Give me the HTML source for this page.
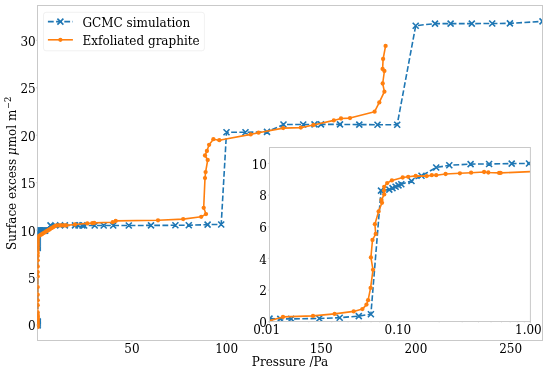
<!DOCTYPE html>
<html lang="en"><head><meta charset="utf-8"><title>Adsorption isotherm</title>
<style>html,body{margin:0;padding:0;background:#fff}body{width:550px;height:373px;overflow:hidden}</style>
</head><body>
<svg width="550" height="373" viewBox="0 0 550 373" style="display:block;font-family:'DejaVu Serif','Liberation Serif',serif;font-size:12.0px" fill="#000000">
<rect width="550" height="373" fill="#fff"/>
<defs><clipPath id="cm"><rect x="37.5" y="5.5" width="505.0" height="335.0"/></clipPath><clipPath id="ci"><rect x="269.5" y="147.5" width="260.9" height="174.0"/></clipPath></defs>
<rect x="37.5" y="5.5" width="505.0" height="335.0" fill="none" stroke="#c9c9c9" stroke-width="1"/>
<g clip-path="url(#cm)">
<polyline points="37.7,325.4 37.7,324.6 37.7,323.8 37.7,323.0 37.7,322.2 37.7,321.4 37.7,248.0 37.7,247.0 37.7,246.0 37.7,245.0 37.7,244.0 37.7,243.0 37.7,242.0 37.7,241.0 37.7,240.0 37.7,239.0 37.7,238.0 37.7,237.0 37.7,236.0 37.7,235.0 37.7,234.0 37.7,233.0 37.7,232.0 38.0,230.6 38.8,230.6 39.6,230.6 40.4,230.6 41.2,230.6 42.0,230.6 42.8,230.6 43.6,230.6 44.4,230.6 45.2,230.6 50.5,225.4 55.3,225.4 60.1,225.4 64.9,225.4 75.0,225.4 78.5,225.4 82.4,225.4 84.1,225.5 94.7,225.5 103.7,225.5 113.2,225.5 128.8,225.5 151.0,225.4 175.4,225.3 188.8,225.3 207.6,224.6 221.2,224.5 226.5,132.3 245.5,132.3 267.0,131.9 283.5,124.5 303.2,124.5 314.5,124.4 321.0,124.4 340.0,124.4 359.3,124.6 377.5,124.7 397.2,124.7 415.7,25.7 435.0,23.6 450.6,23.6 471.8,23.6 492.2,23.5 509.9,23.4 542.5,21.4" fill="none" stroke="#1f77b4" stroke-width="1.6" stroke-dasharray="5.8 2.4"/>
<path d="M34.7,322.4L40.7,328.4M34.7,328.4L40.7,322.4M34.7,321.6L40.7,327.6M34.7,327.6L40.7,321.6M34.7,320.8L40.7,326.8M34.7,326.8L40.7,320.8M34.7,320.0L40.7,326.0M34.7,326.0L40.7,320.0M34.7,319.2L40.7,325.2M34.7,325.2L40.7,319.2M34.7,318.4L40.7,324.4M34.7,324.4L40.7,318.4M34.7,245.0L40.7,251.0M34.7,251.0L40.7,245.0M34.7,244.0L40.7,250.0M34.7,250.0L40.7,244.0M34.7,243.0L40.7,249.0M34.7,249.0L40.7,243.0M34.7,242.0L40.7,248.0M34.7,248.0L40.7,242.0M34.7,241.0L40.7,247.0M34.7,247.0L40.7,241.0M34.7,240.0L40.7,246.0M34.7,246.0L40.7,240.0M34.7,239.0L40.7,245.0M34.7,245.0L40.7,239.0M34.7,238.0L40.7,244.0M34.7,244.0L40.7,238.0M34.7,237.0L40.7,243.0M34.7,243.0L40.7,237.0M34.7,236.0L40.7,242.0M34.7,242.0L40.7,236.0M34.7,235.0L40.7,241.0M34.7,241.0L40.7,235.0M34.7,234.0L40.7,240.0M34.7,240.0L40.7,234.0M34.7,233.0L40.7,239.0M34.7,239.0L40.7,233.0M34.7,232.0L40.7,238.0M34.7,238.0L40.7,232.0M34.7,231.0L40.7,237.0M34.7,237.0L40.7,231.0M34.7,230.0L40.7,236.0M34.7,236.0L40.7,230.0M34.7,229.0L40.7,235.0M34.7,235.0L40.7,229.0M35.0,227.6L41.0,233.6M35.0,233.6L41.0,227.6M35.8,227.6L41.8,233.6M35.8,233.6L41.8,227.6M36.6,227.6L42.6,233.6M36.6,233.6L42.6,227.6M37.4,227.6L43.4,233.6M37.4,233.6L43.4,227.6M38.2,227.6L44.2,233.6M38.2,233.6L44.2,227.6M39.0,227.6L45.0,233.6M39.0,233.6L45.0,227.6M39.8,227.6L45.8,233.6M39.8,233.6L45.8,227.6M40.6,227.6L46.6,233.6M40.6,233.6L46.6,227.6M41.4,227.6L47.4,233.6M41.4,233.6L47.4,227.6M42.2,227.6L48.2,233.6M42.2,233.6L48.2,227.6M47.5,222.4L53.5,228.4M47.5,228.4L53.5,222.4M52.3,222.4L58.3,228.4M52.3,228.4L58.3,222.4M57.1,222.4L63.1,228.4M57.1,228.4L63.1,222.4M61.9,222.4L67.9,228.4M61.9,228.4L67.9,222.4M72.0,222.4L78.0,228.4M72.0,228.4L78.0,222.4M75.5,222.4L81.5,228.4M75.5,228.4L81.5,222.4M79.4,222.4L85.4,228.4M79.4,228.4L85.4,222.4M81.1,222.5L87.1,228.5M81.1,228.5L87.1,222.5M91.7,222.5L97.7,228.5M91.7,228.5L97.7,222.5M100.7,222.5L106.7,228.5M100.7,228.5L106.7,222.5M110.2,222.5L116.2,228.5M110.2,228.5L116.2,222.5M125.8,222.5L131.8,228.5M125.8,228.5L131.8,222.5M148.0,222.4L154.0,228.4M148.0,228.4L154.0,222.4M172.4,222.3L178.4,228.3M172.4,228.3L178.4,222.3M185.8,222.3L191.8,228.3M185.8,228.3L191.8,222.3M204.6,221.6L210.6,227.6M204.6,227.6L210.6,221.6M218.2,221.5L224.2,227.5M218.2,227.5L224.2,221.5M223.5,129.3L229.5,135.3M223.5,135.3L229.5,129.3M242.5,129.3L248.5,135.3M242.5,135.3L248.5,129.3M264.0,128.9L270.0,134.9M264.0,134.9L270.0,128.9M280.5,121.5L286.5,127.5M280.5,127.5L286.5,121.5M300.2,121.5L306.2,127.5M300.2,127.5L306.2,121.5M311.5,121.4L317.5,127.4M311.5,127.4L317.5,121.4M318.0,121.4L324.0,127.4M318.0,127.4L324.0,121.4M337.0,121.4L343.0,127.4M337.0,127.4L343.0,121.4M356.3,121.6L362.3,127.6M356.3,127.6L362.3,121.6M374.5,121.7L380.5,127.7M374.5,127.7L380.5,121.7M394.2,121.7L400.2,127.7M394.2,127.7L400.2,121.7M412.7,22.7L418.7,28.7M412.7,28.7L418.7,22.7M432.0,20.6L438.0,26.6M432.0,26.6L438.0,20.6M447.6,20.6L453.6,26.6M447.6,26.6L453.6,20.6M468.8,20.6L474.8,26.6M468.8,26.6L474.8,20.6M489.2,20.5L495.2,26.5M489.2,26.5L495.2,20.5M506.9,20.4L512.9,26.4M506.9,26.4L512.9,20.4M539.5,18.4L545.5,24.4M539.5,24.4L545.5,18.4" stroke="#1f77b4" stroke-width="1.6" fill="none"/>
<polyline points="37.7,327.0 37.7,325.5 37.7,324.0 37.7,322.5 37.7,321.0 37.7,319.5 37.7,318.0 37.7,316.5 37.7,315.0 37.7,312.4 37.7,305.2 37.7,300.3 37.7,294.7 37.7,287.1 37.7,276.4 37.7,272.1 37.7,266.5 37.7,260.3 37.7,256.0 37.7,253.0 37.7,250.0 37.7,247.5 37.7,245.0 37.7,243.0 37.7,241.0 37.7,239.0 37.7,237.5 38.2,236.4 39.5,235.6 40.8,234.8 42.2,234.0 43.5,233.1 44.8,232.3 46.1,231.5 47.5,230.7 48.8,229.9 50.1,229.1 51.4,228.2 52.8,227.4 54.1,226.6 55.4,225.8 57.0,225.4 59.0,225.4 61.0,225.4 63.0,225.4 65.0,225.4 66.5,225.4 75.0,224.5 87.3,223.4 92.3,223.2 94.2,222.9 112.7,222.2 115.7,220.9 158.0,220.3 183.2,219.1 201.2,216.8 206.0,214.1 203.7,207.8 205.0,178.1 205.6,172.1 207.7,160.0 205.0,155.5 206.9,151.0 209.1,144.8 213.4,139.2 219.3,140.2 250.7,134.4 258.5,132.7 283.2,128.1 300.8,127.6 313.5,125.0 333.8,120.4 341.0,118.5 350.0,118.1 374.6,111.7 379.3,102.4 384.4,91.7 382.7,83.5 384.4,71.0 382.6,69.0 383.1,59.0 385.6,45.9" fill="none" stroke="#ff7f0e" stroke-width="1.6" stroke-linejoin="round"/>
<g fill="#ff7f0e"><circle cx="37.7" cy="327.0" r="2.15"/><circle cx="37.7" cy="325.5" r="2.15"/><circle cx="37.7" cy="324.0" r="2.15"/><circle cx="37.7" cy="322.5" r="2.15"/><circle cx="37.7" cy="321.0" r="2.15"/><circle cx="37.7" cy="319.5" r="2.15"/><circle cx="37.7" cy="318.0" r="2.15"/><circle cx="37.7" cy="316.5" r="2.15"/><circle cx="37.7" cy="315.0" r="2.15"/><circle cx="37.7" cy="312.4" r="2.15"/><circle cx="37.7" cy="305.2" r="2.15"/><circle cx="37.7" cy="300.3" r="2.15"/><circle cx="37.7" cy="294.7" r="2.15"/><circle cx="37.7" cy="287.1" r="2.15"/><circle cx="37.7" cy="276.4" r="2.15"/><circle cx="37.7" cy="272.1" r="2.15"/><circle cx="37.7" cy="266.5" r="2.15"/><circle cx="37.7" cy="260.3" r="2.15"/><circle cx="37.7" cy="256.0" r="2.15"/><circle cx="37.7" cy="253.0" r="2.15"/><circle cx="37.7" cy="250.0" r="2.15"/><circle cx="37.7" cy="247.5" r="2.15"/><circle cx="37.7" cy="245.0" r="2.15"/><circle cx="37.7" cy="243.0" r="2.15"/><circle cx="37.7" cy="241.0" r="2.15"/><circle cx="37.7" cy="239.0" r="2.15"/><circle cx="37.7" cy="237.5" r="2.15"/><circle cx="38.2" cy="236.4" r="2.15"/><circle cx="39.5" cy="235.6" r="2.15"/><circle cx="40.8" cy="234.8" r="2.15"/><circle cx="42.2" cy="234.0" r="2.15"/><circle cx="43.5" cy="233.1" r="2.15"/><circle cx="44.8" cy="232.3" r="2.15"/><circle cx="46.1" cy="231.5" r="2.15"/><circle cx="47.5" cy="230.7" r="2.15"/><circle cx="48.8" cy="229.9" r="2.15"/><circle cx="50.1" cy="229.1" r="2.15"/><circle cx="51.4" cy="228.2" r="2.15"/><circle cx="52.8" cy="227.4" r="2.15"/><circle cx="54.1" cy="226.6" r="2.15"/><circle cx="55.4" cy="225.8" r="2.15"/><circle cx="57.0" cy="225.4" r="2.15"/><circle cx="59.0" cy="225.4" r="2.15"/><circle cx="61.0" cy="225.4" r="2.15"/><circle cx="63.0" cy="225.4" r="2.15"/><circle cx="65.0" cy="225.4" r="2.15"/><circle cx="66.5" cy="225.4" r="2.15"/><circle cx="75.0" cy="224.5" r="2.15"/><circle cx="87.3" cy="223.4" r="2.15"/><circle cx="92.3" cy="223.2" r="2.15"/><circle cx="94.2" cy="222.9" r="2.15"/><circle cx="112.7" cy="222.2" r="2.15"/><circle cx="115.7" cy="220.9" r="2.15"/><circle cx="158.0" cy="220.3" r="2.15"/><circle cx="183.2" cy="219.1" r="2.15"/><circle cx="201.2" cy="216.8" r="2.15"/><circle cx="206.0" cy="214.1" r="2.15"/><circle cx="203.7" cy="207.8" r="2.15"/><circle cx="205.0" cy="178.1" r="2.15"/><circle cx="205.6" cy="172.1" r="2.15"/><circle cx="207.7" cy="160.0" r="2.15"/><circle cx="205.0" cy="155.5" r="2.15"/><circle cx="206.9" cy="151.0" r="2.15"/><circle cx="209.1" cy="144.8" r="2.15"/><circle cx="213.4" cy="139.2" r="2.15"/><circle cx="219.3" cy="140.2" r="2.15"/><circle cx="250.7" cy="134.4" r="2.15"/><circle cx="258.5" cy="132.7" r="2.15"/><circle cx="283.2" cy="128.1" r="2.15"/><circle cx="300.8" cy="127.6" r="2.15"/><circle cx="313.5" cy="125.0" r="2.15"/><circle cx="333.8" cy="120.4" r="2.15"/><circle cx="341.0" cy="118.5" r="2.15"/><circle cx="350.0" cy="118.1" r="2.15"/><circle cx="374.6" cy="111.7" r="2.15"/><circle cx="379.3" cy="102.4" r="2.15"/><circle cx="384.4" cy="91.7" r="2.15"/><circle cx="382.7" cy="83.5" r="2.15"/><circle cx="384.4" cy="71.0" r="2.15"/><circle cx="382.6" cy="69.0" r="2.15"/><circle cx="383.1" cy="59.0" r="2.15"/><circle cx="385.6" cy="45.9" r="2.15"/></g>
</g>
<path d="M37.5,5.5H542.5V340.5H37.5" fill="none" stroke="#c9c9c9" stroke-width="1"/>
<path d="M35.9,325.0H37.5M35.9,277.6H37.5M35.9,230.1H37.5M35.9,182.7H37.5M35.9,135.2H37.5M35.9,87.8H37.5M35.9,40.3H37.5M131.9,340.5V342.1M226.6,340.5V342.1M321.2,340.5V342.1M415.9,340.5V342.1M510.6,340.5V342.1" stroke="#c9c9c9" stroke-width="0.8" fill="none"/>
<text x="35.7" y="330.4" text-anchor="end">0</text>
<text x="35.7" y="282.9" text-anchor="end">5</text>
<text x="35.7" y="235.5" text-anchor="end">10</text>
<text x="35.7" y="188.1" text-anchor="end">15</text>
<text x="35.7" y="140.6" text-anchor="end">20</text>
<text x="35.7" y="93.2" text-anchor="end">25</text>
<text x="35.7" y="45.7" text-anchor="end">30</text>
<text x="131.9" y="352.7" text-anchor="middle">50</text>
<text x="226.6" y="352.7" text-anchor="middle">100</text>
<text x="321.2" y="352.7" text-anchor="middle">150</text>
<text x="415.9" y="352.7" text-anchor="middle">200</text>
<text x="510.6" y="352.7" text-anchor="middle">250</text>
<text x="290" y="365.6" text-anchor="middle">Pressure /Pa</text>
<text transform="translate(15.6,173.3) rotate(-90)" text-anchor="middle">Surface excess <tspan font-style="italic">μ</tspan>mol m<tspan dx="0.6" dy="-4.6" font-size="8.4">−2</tspan></text>
<rect x="43.5" y="12.3" width="160.9" height="38.5" rx="2.5" fill="#fff" fill-opacity="0.8" stroke="#cccccc" stroke-opacity="0.3" stroke-width="0.9"/>
<line x1="47.9" y1="21.6" x2="72.9" y2="21.6" stroke="#1f77b4" stroke-width="1.6" stroke-dasharray="5.8 2.4"/>
<path d="M57.4,18.6L63.4,24.6M57.4,24.6L63.4,18.6" stroke="#1f77b4" stroke-width="1.6" fill="none"/>
<line x1="47.9" y1="39.8" x2="72.9" y2="39.8" stroke="#ff7f0e" stroke-width="1.6"/>
<circle cx="60.4" cy="39.8" r="2.15" fill="#ff7f0e"/>
<text x="82.5" y="26.5">GCMC simulation</text>
<text x="82.5" y="44.5">Exfoliated graphite</text>
<rect x="269.5" y="147.5" width="260.9" height="174.0" fill="#fff"/>
<g clip-path="url(#ci)">
<polyline points="269.5,318.6 280.3,318.9 291.2,318.9 319.3,318.5 339.7,317.7 358.8,316.1 370.9,314.2 381.0,190.6 389.3,189.6 392.5,188.1 395.6,186.7 398.5,185.4 401.3,184.3 411.5,181.0 421.5,175.8 436.2,167.5 449.3,165.3 470.6,164.1 489.1,164.0 511.7,163.6 529.0,163.5" fill="none" stroke="#1f77b4" stroke-width="1.6" stroke-dasharray="5.8 2.4"/>
<path d="M266.5,315.6L272.5,321.6M266.5,321.6L272.5,315.6M277.3,315.9L283.3,321.9M277.3,321.9L283.3,315.9M288.2,315.9L294.2,321.9M288.2,321.9L294.2,315.9M316.3,315.5L322.3,321.5M316.3,321.5L322.3,315.5M336.7,314.7L342.7,320.7M336.7,320.7L342.7,314.7M355.8,313.1L361.8,319.1M355.8,319.1L361.8,313.1M367.9,311.2L373.9,317.2M367.9,317.2L373.9,311.2M378.0,187.6L384.0,193.6M378.0,193.6L384.0,187.6M386.3,186.6L392.3,192.6M386.3,192.6L392.3,186.6M389.5,185.1L395.5,191.1M389.5,191.1L395.5,185.1M392.6,183.7L398.6,189.7M392.6,189.7L398.6,183.7M395.5,182.4L401.5,188.4M395.5,188.4L401.5,182.4M398.3,181.3L404.3,187.3M398.3,187.3L404.3,181.3M408.5,178.0L414.5,184.0M408.5,184.0L414.5,178.0M418.5,172.8L424.5,178.8M418.5,178.8L424.5,172.8M433.2,164.5L439.2,170.5M433.2,170.5L439.2,164.5M446.3,162.3L452.3,168.3M446.3,168.3L452.3,162.3M467.6,161.1L473.6,167.1M467.6,167.1L473.6,161.1M486.1,161.0L492.1,167.0M486.1,167.0L492.1,161.0M508.7,160.6L514.7,166.6M508.7,166.6L514.7,160.6M526.0,160.5L532.0,166.5M526.0,166.5L532.0,160.5" stroke="#1f77b4" stroke-width="1.6" fill="none"/>
<polyline points="268.5,321.1 283.0,316.9 313.0,315.9 334.6,313.9 353.7,311.4 362.4,309.1 366.5,304.6 368.1,300.2 370.6,287.9 373.0,269.8 370.9,257.4 372.5,240.0 375.7,233.9 374.9,224.2 378.6,211.4 382.0,202.8 381.5,199.9 384.2,194.4 384.0,190.6 384.2,186.8 387.2,183.1 391.9,180.4 402.7,177.5 408.2,176.8 415.7,175.9 426.7,176.1 431.8,175.2 436.2,175.2 445.6,174.0 459.9,173.3 471.1,172.7 484.1,172.0 488.3,172.5 499.1,172.9 500.6,172.9 530.4,171.6" fill="none" stroke="#ff7f0e" stroke-width="1.6" stroke-linejoin="round"/>
<g fill="#ff7f0e"><circle cx="268.5" cy="321.1" r="2.15"/><circle cx="283.0" cy="316.9" r="2.15"/><circle cx="313.0" cy="315.9" r="2.15"/><circle cx="334.6" cy="313.9" r="2.15"/><circle cx="353.7" cy="311.4" r="2.15"/><circle cx="362.4" cy="309.1" r="2.15"/><circle cx="366.5" cy="304.6" r="2.15"/><circle cx="368.1" cy="300.2" r="2.15"/><circle cx="370.6" cy="287.9" r="2.15"/><circle cx="373.0" cy="269.8" r="2.15"/><circle cx="370.9" cy="257.4" r="2.15"/><circle cx="372.5" cy="240.0" r="2.15"/><circle cx="375.7" cy="233.9" r="2.15"/><circle cx="374.9" cy="224.2" r="2.15"/><circle cx="378.6" cy="211.4" r="2.15"/><circle cx="382.0" cy="202.8" r="2.15"/><circle cx="381.5" cy="199.9" r="2.15"/><circle cx="384.2" cy="194.4" r="2.15"/><circle cx="384.0" cy="190.6" r="2.15"/><circle cx="384.2" cy="186.8" r="2.15"/><circle cx="387.2" cy="183.1" r="2.15"/><circle cx="391.9" cy="180.4" r="2.15"/><circle cx="402.7" cy="177.5" r="2.15"/><circle cx="408.2" cy="176.8" r="2.15"/><circle cx="415.7" cy="175.9" r="2.15"/><circle cx="426.7" cy="176.1" r="2.15"/><circle cx="431.8" cy="175.2" r="2.15"/><circle cx="436.2" cy="175.2" r="2.15"/><circle cx="445.6" cy="174.0" r="2.15"/><circle cx="459.9" cy="173.3" r="2.15"/><circle cx="471.1" cy="172.7" r="2.15"/><circle cx="484.1" cy="172.0" r="2.15"/><circle cx="488.3" cy="172.5" r="2.15"/><circle cx="499.1" cy="172.9" r="2.15"/><circle cx="500.6" cy="172.9" r="2.15"/></g>
</g>
<rect x="269.5" y="147.5" width="260.9" height="174.0" fill="none" stroke="#c9c9c9" stroke-width="1"/>
<path d="M267.9,321.8H269.5M267.9,290.1H269.5M267.9,258.4H269.5M267.9,226.8H269.5M267.9,195.1H269.5M267.9,163.4H269.5M269.5,321.5V323.1M308.8,321.5V322.4M331.7,321.5V322.4M348.0,321.5V322.4M360.7,321.5V322.4M371.0,321.5V322.4M379.7,321.5V322.4M387.3,321.5V322.4M394.0,321.5V322.4M399.9,321.5V323.1M439.2,321.5V322.4M462.2,321.5V322.4M478.5,321.5V322.4M491.1,321.5V322.4M501.5,321.5V322.4M510.2,321.5V322.4M517.8,321.5V322.4M524.4,321.5V322.4M530.4,321.5V323.1" stroke="#c9c9c9" stroke-width="0.8" fill="none"/>
<text x="267.0" y="326.9" text-anchor="end">0</text>
<text x="267.0" y="295.3" text-anchor="end">2</text>
<text x="267.0" y="263.6" text-anchor="end">4</text>
<text x="267.0" y="232.0" text-anchor="end">6</text>
<text x="267.0" y="200.3" text-anchor="end">8</text>
<text x="267.0" y="168.6" text-anchor="end">10</text>
<text x="266.7" y="333.6" text-anchor="middle">0.01</text>
<text x="397.9" y="333.6" text-anchor="middle">0.10</text>
<text x="528.4" y="333.6" text-anchor="middle">1.00</text>
</svg>
</body></html>
